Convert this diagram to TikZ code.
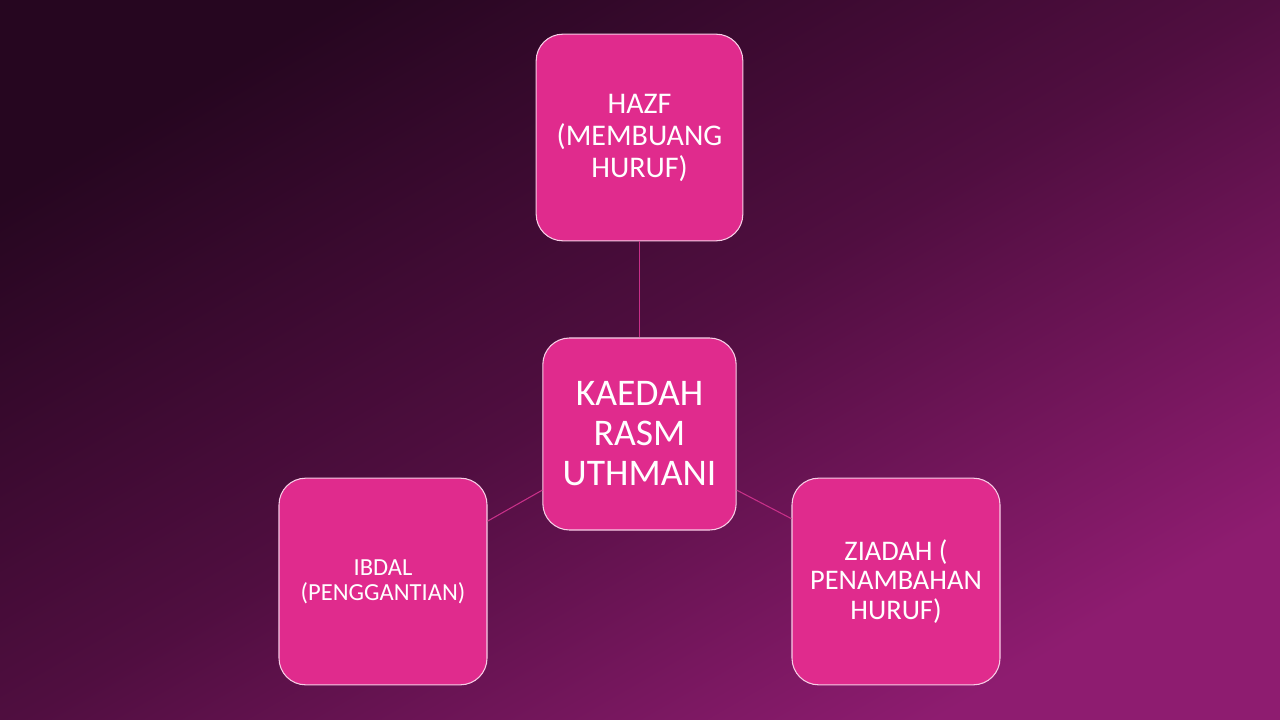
\documentclass[tikz,border=0pt]{standalone}
\usepackage{fontspec}
\setmainfont{Carlito}
\usetikzlibrary{calc}

\definecolor{latargelap}{HTML}{260620}
\definecolor{latartengah}{HTML}{500E40}
\definecolor{latarterang}{HTML}{8E1C70}
\definecolor{isikotak}{HTML}{E02B8D}
\definecolor{tepikotak}{HTML}{F7CDE6}
\definecolor{warnagaris}{HTML}{C83089}

\tikzset{
  kotak/.style={draw=tepikotak, line width=0.8pt, fill=isikotak, rounded corners=20pt,
    text=white, align=center, inner sep=2pt},
  garis/.style={draw=warnagaris, line width=0.8pt}
}

\begin{document}
\begin{tikzpicture}[x=0.75pt, y=-0.75pt]
\shade[top color=latargelap, bottom color=latarterang, middle color=latartengah, shading angle=30]
  (0,0) rectangle (1280,720);
\useasboundingbox (0,0) rectangle (1280,720);

\node[kotak, minimum width=155pt, minimum height=155pt, font=\fontsize{22.5}{24}\selectfont] (hazf) at (639.5,137.5) {HAZF\\(MEMBUANG\\HURUF)};
\node[kotak, minimum width=145pt, minimum height=144pt, font=\fontsize{28.2}{30}\selectfont] (kaedah) at (639.5,434) {KAEDAH\\RASM\\UTHMANI};
\node[kotak, minimum width=156pt, minimum height=155pt, font=\fontsize{18.4}{19}\selectfont] (ibdal) at (383,581.5) {IBDAL\\(PENGGANTIAN)};
\node[kotak, minimum width=156pt, minimum height=155pt, font=\fontsize{21.3}{22}\selectfont] (ziadah) at (896,581.5) {ZIADAH (\\PENAMBAHAN\\HURUF)};

\draw[garis] (hazf.south) -- (kaedah.north);
\draw[garis] (ibdal.30.6) -- (kaedah.210.6);
\draw[garis] (kaedah.-30.6) -- (ziadah.149.4);
\end{tikzpicture}
\end{document}
